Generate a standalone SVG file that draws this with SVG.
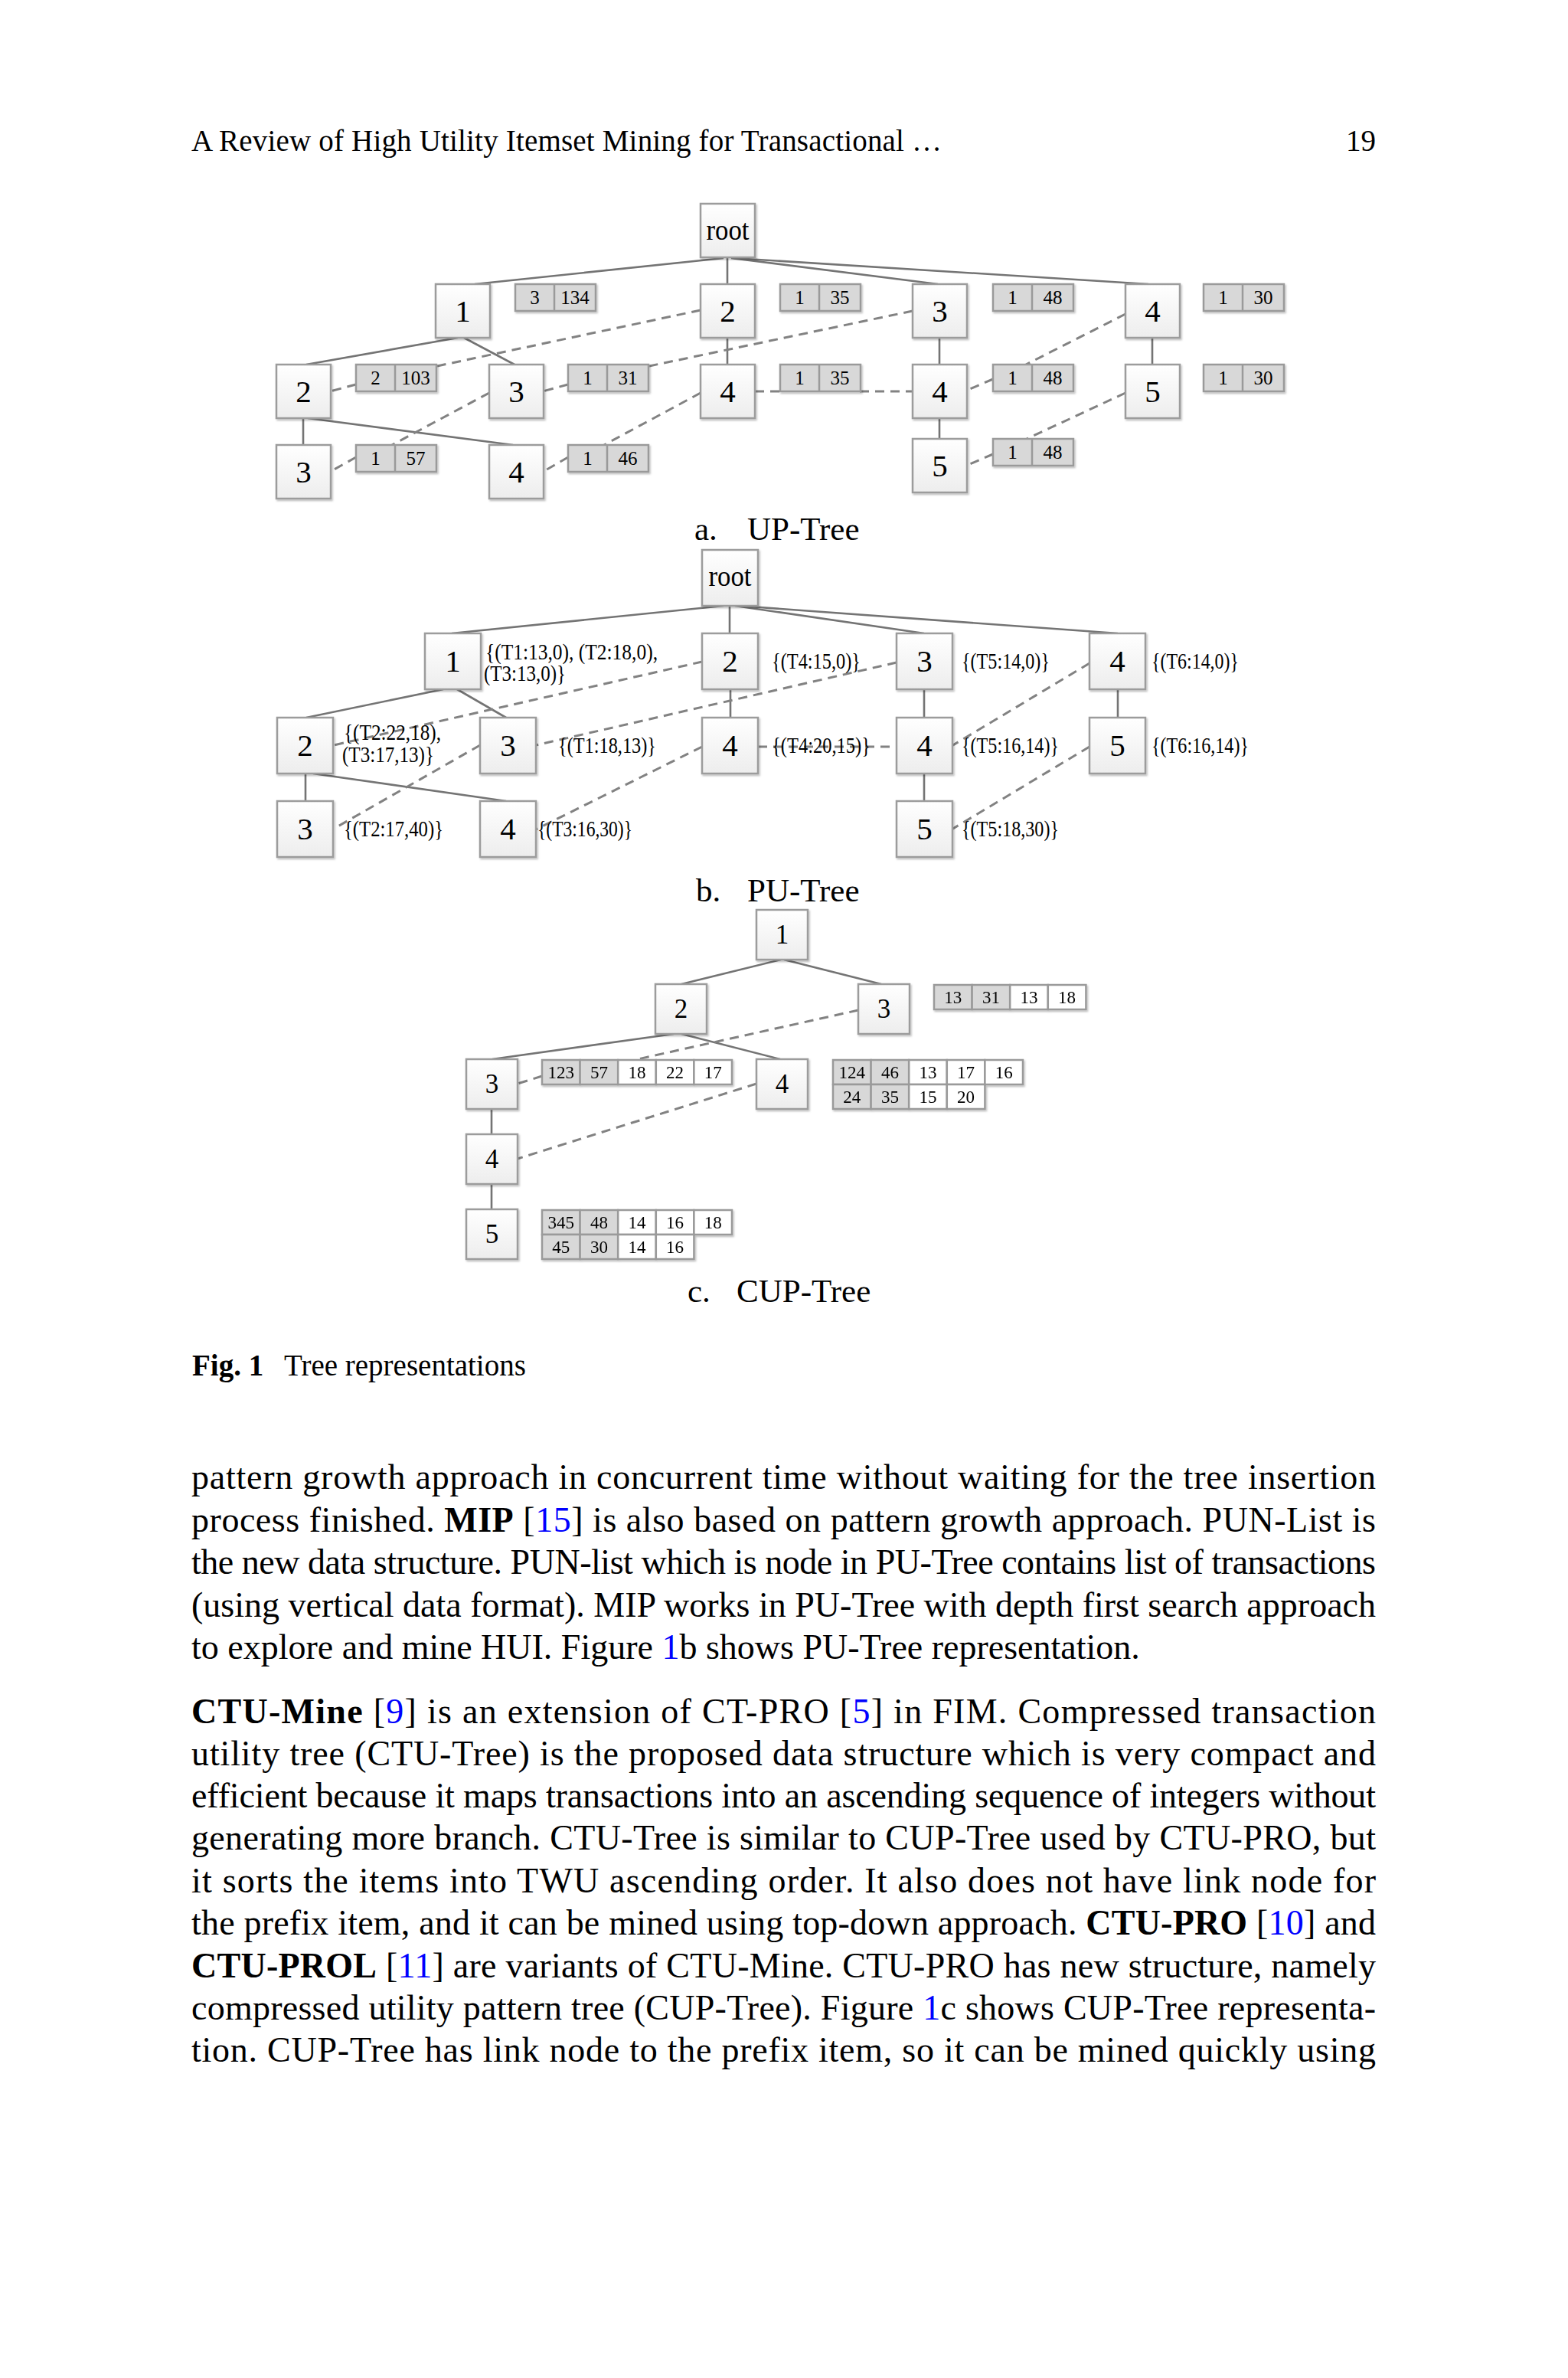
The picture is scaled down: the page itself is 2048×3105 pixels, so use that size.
<svg xmlns="http://www.w3.org/2000/svg" width="2048" height="3105" viewBox="0 0 2048 3105">
<defs>
<linearGradient id="ng" x1="0" y1="0" x2="0" y2="1"><stop offset="0" stop-color="#ffffff"/><stop offset="1" stop-color="#ededed"/></linearGradient>
<filter id="sh" x="-10%" y="-10%" width="130%" height="130%"><feDropShadow dx="1.5" dy="2" stdDeviation="1.2" flood-color="#000" flood-opacity="0.25"/></filter>
</defs>
<style>
.n{fill:url(#ng);stroke:#9c9c9c;stroke-width:2.5;filter:url(#sh)}
.ib{fill:#d8d8d8;stroke:#9a9a9a;stroke-width:2.5;filter:url(#sh)}
.dv{stroke:#9a9a9a;stroke-width:2.5}
.cw{fill:#ffffff;stroke:#9a9a9a;stroke-width:2.5}
.cg{fill:#d8d8d8;stroke:#9a9a9a;stroke-width:2.5}
.tb{filter:url(#sh)}
.e{stroke:#747474;stroke-width:2.6;fill:none}
.d{stroke:#828282;stroke-width:3;stroke-dasharray:12 8;fill:none}
text{font-family:'Liberation Serif','Times New Roman',serif;fill:#000}
.nt{font-size:41px;text-anchor:middle}
.rt{font-size:38px;text-anchor:middle}
.cn{font-size:35px;text-anchor:middle}
.bt{font-size:25px;text-anchor:middle}
.pl{font-size:29px}
.ct{font-size:23px;text-anchor:middle}
.cap{font-size:43px}
.body{font-size:46px}
.hd{font-size:39px}
.fc{font-size:39px}
.b{font-weight:bold}
.ref{fill:#0000ff}
</style>
<rect width="2048" height="3105" fill="#ffffff"/>

<g id="header">
<text class="hd" x="250" y="197" textLength="980" lengthAdjust="spacing">A Review of High Utility Itemset Mining for Transactional …</text>
<text class="hd" x="1797" y="197" text-anchor="end">19</text>
</g>

<!-- ================= UP-Tree ================= -->
<g id="up-connectors">
<line class="e" x1="945" y1="337" x2="620" y2="371"/>
<line class="e" x1="950" y1="337" x2="950" y2="371"/>
<line class="e" x1="955" y1="337" x2="1225" y2="371"/>
<line class="e" x1="958" y1="337" x2="1500" y2="371"/>
<line class="e" x1="598" y1="441" x2="400" y2="476"/>
<line class="e" x1="606" y1="441" x2="672" y2="476"/>
<line class="e" x1="950" y1="441" x2="950" y2="476"/>
<line class="e" x1="1227" y1="441" x2="1227" y2="476"/>
<line class="e" x1="1227" y1="546" x2="1227" y2="573"/>
<line class="e" x1="1505" y1="441" x2="1505" y2="476"/>
<line class="e" x1="396" y1="546" x2="396" y2="581"/>
<line class="e" x1="402" y1="546" x2="670" y2="581"/>
<line class="d" x1="915" y1="405" x2="571" y2="478"/>
<line class="d" x1="465" y1="502" x2="431" y2="511"/>
<line class="d" x1="1192" y1="406" x2="848" y2="478"/>
<line class="d" x1="742" y1="502" x2="709" y2="511"/>
<line class="d" x1="639" y1="513" x2="512" y2="581"/>
<line class="d" x1="465" y1="597" x2="431" y2="616"/>
<line class="d" x1="915" y1="513" x2="789" y2="581"/>
<line class="d" x1="742" y1="597" x2="709" y2="616"/>
<line class="d" x1="986" y1="511" x2="1019" y2="511"/>
<line class="d" x1="1123" y1="511" x2="1192" y2="511"/>
<line class="d" x1="1470" y1="410" x2="1340" y2="476"/>
<line class="d" x1="1297" y1="495" x2="1262" y2="510"/>
<line class="d" x1="1470" y1="513" x2="1341" y2="573"/>
<line class="d" x1="1297" y1="593" x2="1262" y2="608"/>
</g>

<g id="up-root"><rect class="n" x="915" y="266" width="71" height="70"/><text class="rt" x="950.5" y="313" textLength="56" lengthAdjust="spacingAndGlyphs">root</text></g>
<g id="up-n1"><rect class="n" x="569" y="371" width="71" height="70"/><text class="nt" x="604.5" y="420">1</text></g>
<g id="up-n2"><rect class="n" x="915" y="371" width="71" height="70"/><text class="nt" x="950.5" y="420">2</text></g>
<g id="up-n3"><rect class="n" x="1192" y="371" width="71" height="70"/><text class="nt" x="1227.5" y="420">3</text></g>
<g id="up-n4"><rect class="n" x="1470" y="371" width="71" height="70"/><text class="nt" x="1505.5" y="420">4</text></g>
<g id="up-n1-2"><rect class="n" x="361" y="476" width="71" height="70"/><text class="nt" x="396.5" y="525">2</text></g>
<g id="up-n1-3"><rect class="n" x="639" y="476" width="71" height="70"/><text class="nt" x="674.5" y="525">3</text></g>
<g id="up-n2-4"><rect class="n" x="915" y="476" width="71" height="70"/><text class="nt" x="950.5" y="525">4</text></g>
<g id="up-n3-4"><rect class="n" x="1192" y="476" width="71" height="70"/><text class="nt" x="1227.5" y="525">4</text></g>
<g id="up-n4-5"><rect class="n" x="1470" y="476" width="71" height="70"/><text class="nt" x="1505.5" y="525">5</text></g>
<g id="up-n1-2-3"><rect class="n" x="361" y="581" width="71" height="70"/><text class="nt" x="396.5" y="630">3</text></g>
<g id="up-n1-2-4"><rect class="n" x="639" y="581" width="71" height="70"/><text class="nt" x="674.5" y="630">4</text></g>
<g id="up-n3-4-5"><rect class="n" x="1192" y="573" width="71" height="70"/><text class="nt" x="1227.5" y="622">5</text></g>

<g id="up-info-1"><rect class="ib" x="673" y="371" width="105" height="35"/><line class="dv" x1="724" y1="371" x2="724" y2="406"/><text class="bt" x="698.5" y="397">3</text><text class="bt" x="751" y="397">134</text></g>
<g id="up-info-2"><rect class="ib" x="1019" y="371" width="105" height="35"/><line class="dv" x1="1070" y1="371" x2="1070" y2="406"/><text class="bt" x="1044.5" y="397">1</text><text class="bt" x="1097" y="397">35</text></g>
<g id="up-info-3"><rect class="ib" x="1297" y="371" width="105" height="35"/><line class="dv" x1="1348" y1="371" x2="1348" y2="406"/><text class="bt" x="1322.5" y="397">1</text><text class="bt" x="1375" y="397">48</text></g>
<g id="up-info-4"><rect class="ib" x="1572" y="371" width="105" height="35"/><line class="dv" x1="1623" y1="371" x2="1623" y2="406"/><text class="bt" x="1597.5" y="397">1</text><text class="bt" x="1650" y="397">30</text></g>
<g id="up-info-12"><rect class="ib" x="465" y="476" width="105" height="35"/><line class="dv" x1="516" y1="476" x2="516" y2="511"/><text class="bt" x="490.5" y="502">2</text><text class="bt" x="543" y="502">103</text></g>
<g id="up-info-13"><rect class="ib" x="742" y="476" width="105" height="35"/><line class="dv" x1="793" y1="476" x2="793" y2="511"/><text class="bt" x="767.5" y="502">1</text><text class="bt" x="820" y="502">31</text></g>
<g id="up-info-24"><rect class="ib" x="1019" y="476" width="105" height="35"/><line class="dv" x1="1070" y1="476" x2="1070" y2="511"/><text class="bt" x="1044.5" y="502">1</text><text class="bt" x="1097" y="502">35</text></g>
<g id="up-info-34"><rect class="ib" x="1297" y="476" width="105" height="35"/><line class="dv" x1="1348" y1="476" x2="1348" y2="511"/><text class="bt" x="1322.5" y="502">1</text><text class="bt" x="1375" y="502">48</text></g>
<g id="up-info-45"><rect class="ib" x="1572" y="476" width="105" height="35"/><line class="dv" x1="1623" y1="476" x2="1623" y2="511"/><text class="bt" x="1597.5" y="502">1</text><text class="bt" x="1650" y="502">30</text></g>
<g id="up-info-123"><rect class="ib" x="465" y="581" width="105" height="35"/><line class="dv" x1="516" y1="581" x2="516" y2="616"/><text class="bt" x="490.5" y="607">1</text><text class="bt" x="543" y="607">57</text></g>
<g id="up-info-124"><rect class="ib" x="742" y="581" width="105" height="35"/><line class="dv" x1="793" y1="581" x2="793" y2="616"/><text class="bt" x="767.5" y="607">1</text><text class="bt" x="820" y="607">46</text></g>
<g id="up-info-345"><rect class="ib" x="1297" y="573" width="105" height="35"/><line class="dv" x1="1348" y1="573" x2="1348" y2="608"/><text class="bt" x="1322.5" y="599">1</text><text class="bt" x="1375" y="599">48</text></g>

<g id="cap-a"><text class="cap" x="907" y="705">a.</text><text class="cap" x="976" y="705">UP-Tree</text></g>

<!-- ================= PU-Tree ================= -->
<g id="pu-connectors">
<line class="e" x1="945" y1="791" x2="590" y2="827"/>
<line class="e" x1="953" y1="791" x2="953" y2="827"/>
<line class="e" x1="960" y1="791" x2="1207" y2="827"/>
<line class="e" x1="965" y1="791" x2="1460" y2="827"/>
<line class="e" x1="579" y1="900" x2="400" y2="937"/>
<line class="e" x1="597" y1="900" x2="661" y2="937"/>
<line class="e" x1="399" y1="1010" x2="399" y2="1046"/>
<line class="e" x1="409" y1="1010" x2="661" y2="1046"/>
<line class="e" x1="954" y1="900" x2="954" y2="937"/>
<line class="e" x1="1207" y1="900" x2="1207" y2="937"/>
<line class="e" x1="1207" y1="1010" x2="1207" y2="1046"/>
<line class="e" x1="1460" y1="900" x2="1460" y2="937"/>
<line class="d" x1="917" y1="864" x2="436" y2="973"/>
<line class="d" x1="1171" y1="865" x2="700" y2="973"/>
<line class="d" x1="627" y1="973" x2="436" y2="1082"/>
<line class="d" x1="917" y1="975" x2="700" y2="1083"/>
<line class="d" x1="990" y1="975" x2="1171" y2="975"/>
<line class="d" x1="1423" y1="866" x2="1243" y2="974"/>
<line class="d" x1="1423" y1="975" x2="1243" y2="1083"/>
</g>

<g id="pu-root"><rect class="n" x="917" y="718" width="73" height="73"/><text class="rt" x="953.5" y="765" textLength="56" lengthAdjust="spacingAndGlyphs">root</text></g>
<g id="pu-n1"><rect class="n" x="555" y="827" width="73" height="73"/><text class="nt" x="591.5" y="877">1</text>
<text class="pl" x="634" y="861" textLength="225" lengthAdjust="spacingAndGlyphs">{(T1:13,0), (T2:18,0),</text>
<text class="pl" x="632" y="889" textLength="107" lengthAdjust="spacingAndGlyphs">(T3:13,0)}</text></g>
<g id="pu-n2"><rect class="n" x="917" y="827" width="73" height="73"/><text class="nt" x="953.5" y="877">2</text>
<text class="pl" x="1008" y="873" textLength="116" lengthAdjust="spacingAndGlyphs">{(T4:15,0)}</text></g>
<g id="pu-n3"><rect class="n" x="1171" y="827" width="73" height="73"/><text class="nt" x="1207.5" y="877">3</text>
<text class="pl" x="1256" y="873" textLength="115" lengthAdjust="spacingAndGlyphs">{(T5:14,0)}</text></g>
<g id="pu-n4"><rect class="n" x="1423" y="827" width="73" height="73"/><text class="nt" x="1459.5" y="877">4</text>
<text class="pl" x="1504" y="873" textLength="114" lengthAdjust="spacingAndGlyphs">{(T6:14,0)}</text></g>
<g id="pu-n1-2"><rect class="n" x="362" y="937" width="73" height="73"/><text class="nt" x="398.5" y="987">2</text>
<text class="pl" x="449" y="966" textLength="127" lengthAdjust="spacingAndGlyphs">{(T2:22,18),</text>
<text class="pl" x="447" y="995" textLength="120" lengthAdjust="spacingAndGlyphs">(T3:17,13)}</text></g>
<g id="pu-n1-3"><rect class="n" x="627" y="937" width="73" height="73"/><text class="nt" x="663.5" y="987">3</text>
<text class="pl" x="729" y="983" textLength="128" lengthAdjust="spacingAndGlyphs">{(T1:18,13)}</text></g>
<g id="pu-n2-4"><rect class="n" x="917" y="937" width="73" height="73"/><text class="nt" x="953.5" y="987">4</text>
<text class="pl" x="1008" y="983" textLength="129" lengthAdjust="spacingAndGlyphs">{(T4:20,15)}</text></g>
<g id="pu-n3-4"><rect class="n" x="1171" y="937" width="73" height="73"/><text class="nt" x="1207.5" y="987">4</text>
<text class="pl" x="1256" y="983" textLength="127" lengthAdjust="spacingAndGlyphs">{(T5:16,14)}</text></g>
<g id="pu-n4-5"><rect class="n" x="1423" y="937" width="73" height="73"/><text class="nt" x="1459.5" y="987">5</text>
<text class="pl" x="1504" y="983" textLength="127" lengthAdjust="spacingAndGlyphs">{(T6:16,14)}</text></g>
<g id="pu-n1-2-3"><rect class="n" x="362" y="1046" width="73" height="73"/><text class="nt" x="398.5" y="1096">3</text>
<text class="pl" x="449" y="1092" textLength="130" lengthAdjust="spacingAndGlyphs">{(T2:17,40)}</text></g>
<g id="pu-n1-2-4"><rect class="n" x="627" y="1046" width="73" height="73"/><text class="nt" x="663.5" y="1096">4</text>
<text class="pl" x="702" y="1092" textLength="124" lengthAdjust="spacingAndGlyphs">{(T3:16,30)}</text></g>
<g id="pu-n3-4-5"><rect class="n" x="1171" y="1046" width="73" height="73"/><text class="nt" x="1207.5" y="1096">5</text>
<text class="pl" x="1256" y="1092" textLength="127" lengthAdjust="spacingAndGlyphs">{(T5:18,30)}</text></g>

<g id="cap-b"><text class="cap" x="909" y="1177">b.</text><text class="cap" x="976" y="1177">PU-Tree</text></g>

<!-- ================= CUP-Tree ================= -->
<g id="cup-connectors">
<line class="e" x1="1020" y1="1253" x2="890" y2="1285"/>
<line class="e" x1="1024" y1="1253" x2="1151" y2="1285"/>
<line class="e" x1="880" y1="1350" x2="643" y2="1383"/>
<line class="e" x1="890" y1="1350" x2="1019" y2="1383"/>
<line class="e" x1="642" y1="1448" x2="642" y2="1481"/>
<line class="e" x1="642" y1="1546" x2="642" y2="1579"/>
<line class="d" x1="1121" y1="1319" x2="833" y2="1383"/>
<line class="d" x1="708" y1="1405" x2="676" y2="1415"/>
<line class="d" x1="988" y1="1415" x2="676" y2="1513"/>
</g>

<g id="cup-n1"><rect class="n" x="988" y="1188" width="67" height="65"/><text class="cn" x="1021.5" y="1232">1</text></g>
<g id="cup-n2"><rect class="n" x="856" y="1285" width="67" height="65"/><text class="cn" x="889.5" y="1329">2</text></g>
<g id="cup-n3"><rect class="n" x="1121" y="1285" width="67" height="65"/><text class="cn" x="1154.5" y="1329">3</text></g>
<g id="cup-n2-3"><rect class="n" x="609" y="1383" width="67" height="65"/><text class="cn" x="642.5" y="1427">3</text></g>
<g id="cup-n2-4"><rect class="n" x="988" y="1383" width="67" height="65"/><text class="cn" x="1021.5" y="1427">4</text></g>
<g id="cup-n2-3-4"><rect class="n" x="609" y="1481" width="67" height="65"/><text class="cn" x="642.5" y="1525">4</text></g>
<g id="cup-n2-3-4-5"><rect class="n" x="609" y="1579" width="67" height="65"/><text class="cn" x="642.5" y="1623">5</text></g>

<g id="cup-table-3" class="tb">
<rect class="cg" x="1220" y="1286" width="49.6" height="32"/><rect class="cg" x="1269.6" y="1286" width="49.6" height="32"/><rect class="cw" x="1319.2" y="1286" width="49.6" height="32"/><rect class="cw" x="1368.8" y="1286" width="49.6" height="32"/>
<text class="ct" x="1244.8" y="1310">13</text><text class="ct" x="1294.4" y="1310">31</text><text class="ct" x="1344" y="1310">13</text><text class="ct" x="1393.6" y="1310">18</text>
</g>
<g id="cup-table-23" class="tb">
<rect class="cg" x="708" y="1384" width="49.6" height="32"/><rect class="cg" x="757.6" y="1384" width="49.6" height="32"/><rect class="cw" x="807.2" y="1384" width="49.6" height="32"/><rect class="cw" x="856.8" y="1384" width="49.6" height="32"/><rect class="cw" x="906.4" y="1384" width="49.6" height="32"/>
<text class="ct" x="732.8" y="1408">123</text><text class="ct" x="782.4" y="1408">57</text><text class="ct" x="832" y="1408">18</text><text class="ct" x="881.6" y="1408">22</text><text class="ct" x="931.2" y="1408">17</text>
</g>
<g id="cup-table-24" class="tb">
<rect class="cg" x="1088" y="1384" width="49.6" height="32"/><rect class="cg" x="1137.6" y="1384" width="49.6" height="32"/><rect class="cw" x="1187.2" y="1384" width="49.6" height="32"/><rect class="cw" x="1236.8" y="1384" width="49.6" height="32"/><rect class="cw" x="1286.4" y="1384" width="49.6" height="32"/>
<rect class="cg" x="1088" y="1416" width="49.6" height="32"/><rect class="cg" x="1137.6" y="1416" width="49.6" height="32"/><rect class="cw" x="1187.2" y="1416" width="49.6" height="32"/><rect class="cw" x="1236.8" y="1416" width="49.6" height="32"/>
<text class="ct" x="1112.8" y="1408">124</text><text class="ct" x="1162.4" y="1408">46</text><text class="ct" x="1212" y="1408">13</text><text class="ct" x="1261.6" y="1408">17</text><text class="ct" x="1311.2" y="1408">16</text>
<text class="ct" x="1112.8" y="1440">24</text><text class="ct" x="1162.4" y="1440">35</text><text class="ct" x="1212" y="1440">15</text><text class="ct" x="1261.6" y="1440">20</text>
</g>
<g id="cup-table-2345" class="tb">
<rect class="cg" x="708" y="1580" width="49.6" height="32"/><rect class="cg" x="757.6" y="1580" width="49.6" height="32"/><rect class="cw" x="807.2" y="1580" width="49.6" height="32"/><rect class="cw" x="856.8" y="1580" width="49.6" height="32"/><rect class="cw" x="906.4" y="1580" width="49.6" height="32"/>
<rect class="cg" x="708" y="1612" width="49.6" height="32"/><rect class="cg" x="757.6" y="1612" width="49.6" height="32"/><rect class="cw" x="807.2" y="1612" width="49.6" height="32"/><rect class="cw" x="856.8" y="1612" width="49.6" height="32"/>
<text class="ct" x="732.8" y="1604">345</text><text class="ct" x="782.4" y="1604">48</text><text class="ct" x="832" y="1604">14</text><text class="ct" x="881.6" y="1604">16</text><text class="ct" x="931.2" y="1604">18</text>
<text class="ct" x="732.8" y="1636">45</text><text class="ct" x="782.4" y="1636">30</text><text class="ct" x="832" y="1636">14</text><text class="ct" x="881.6" y="1636">16</text>
</g>

<g id="cap-c"><text class="cap" x="898" y="1700">c.</text><text class="cap" x="962" y="1700">CUP-Tree</text></g>

<g id="fig-caption"><text class="fc" x="251" y="1796"><tspan class="b">Fig. 1</tspan></text><text class="fc" x="371" y="1796">Tree representations</text></g>

<g id="body">
<text class="body" x="250" y="1944" textLength="1547" lengthAdjust="spacing">pattern growth approach in concurrent time without waiting for the tree insertion</text>
<text class="body" x="250" y="2000" textLength="1547" lengthAdjust="spacing">process finished. <tspan class="b">MIP</tspan> [<tspan class="ref">15</tspan>] is also based on pattern growth approach. PUN-List is</text>
<text class="body" x="250" y="2055" textLength="1547" lengthAdjust="spacing">the new data structure. PUN-list which is node in PU-Tree contains list of transactions</text>
<text class="body" x="250" y="2111" textLength="1547" lengthAdjust="spacing">(using vertical data format). MIP works in PU-Tree with depth first search approach</text>
<text class="body" x="250" y="2166">to explore and mine HUI. Figure <tspan class="ref">1</tspan>b shows PU-Tree representation.</text>
<text class="body" x="250" y="2250" textLength="1547" lengthAdjust="spacing"><tspan class="b">CTU-Mine</tspan> [<tspan class="ref">9</tspan>] is an extension of CT-PRO [<tspan class="ref">5</tspan>] in FIM. Compressed transaction</text>
<text class="body" x="250" y="2305" textLength="1547" lengthAdjust="spacing">utility tree (CTU-Tree) is the proposed data structure which is very compact and</text>
<text class="body" x="250" y="2360" textLength="1547" lengthAdjust="spacing">efficient because it maps transactions into an ascending sequence of integers without</text>
<text class="body" x="250" y="2415" textLength="1547" lengthAdjust="spacing">generating more branch. CTU-Tree is similar to CUP-Tree used by CTU-PRO, but</text>
<text class="body" x="250" y="2471" textLength="1547" lengthAdjust="spacing">it sorts the items into TWU ascending order. It also does not have link node for</text>
<text class="body" x="250" y="2526" textLength="1547" lengthAdjust="spacing">the prefix item, and it can be mined using top-down approach. <tspan class="b">CTU-PRO</tspan> [<tspan class="ref">10</tspan>] and</text>
<text class="body" x="250" y="2582" textLength="1547" lengthAdjust="spacing"><tspan class="b">CTU-PROL</tspan> [<tspan class="ref">11</tspan>] are variants of CTU-Mine. CTU-PRO has new structure, namely</text>
<text class="body" x="250" y="2637" textLength="1547" lengthAdjust="spacing">compressed utility pattern tree (CUP-Tree). Figure <tspan class="ref">1</tspan>c shows CUP-Tree representa-</text>
<text class="body" x="250" y="2692" textLength="1547" lengthAdjust="spacing">tion. CUP-Tree has link node to the prefix item, so it can be mined quickly using</text>
</g>
</svg>
